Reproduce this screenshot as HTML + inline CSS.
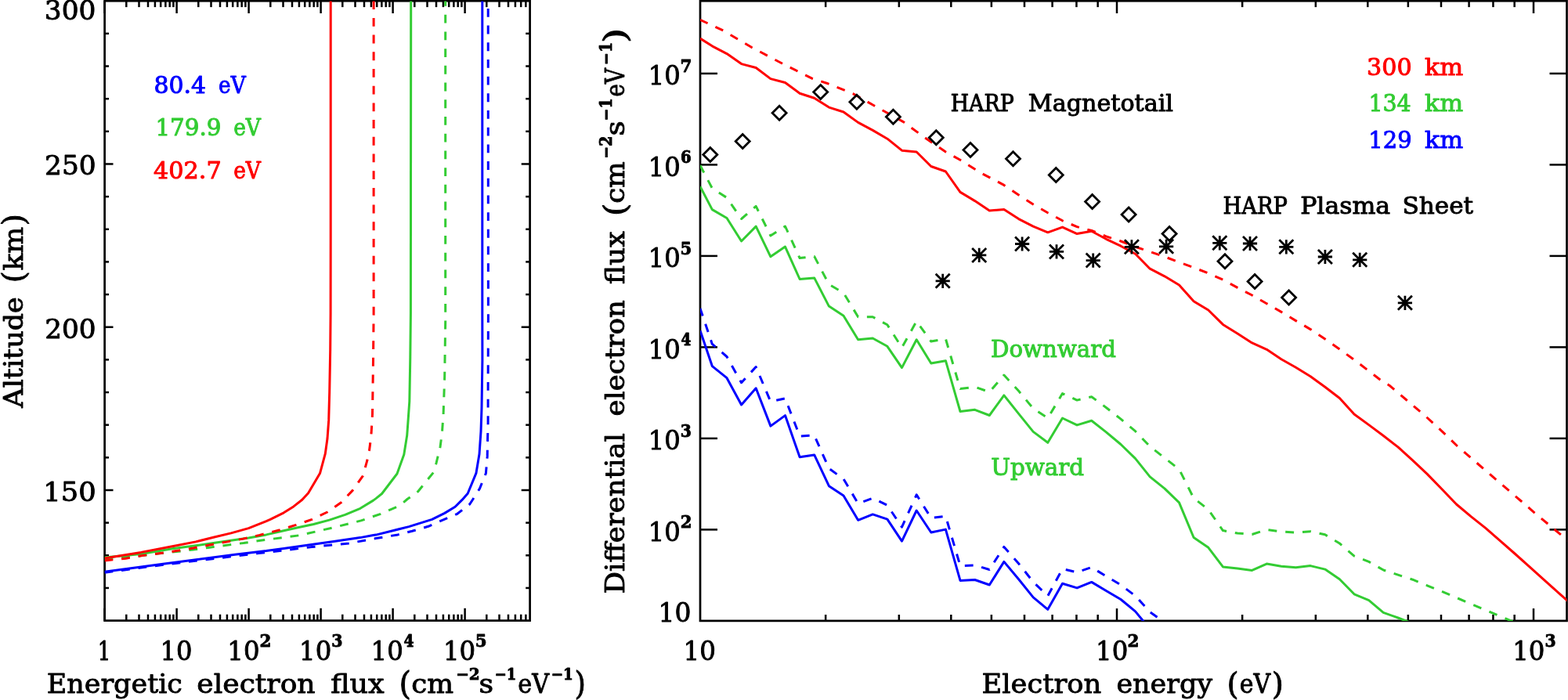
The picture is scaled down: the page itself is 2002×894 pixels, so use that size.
<!DOCTYPE html>
<html><head><meta charset="utf-8"><style>html,body{margin:0;padding:0;background:#fff;overflow:hidden}svg{display:block}</style></head>
<body>
<svg width="2002" height="894" viewBox="0 0 2002 894" font-family='"DejaVu Serif", "Liberation Serif", serif'>
<rect width="100%" height="100%" fill="#ffffff"/>
<defs><clipPath id="cl"><rect x="133.6" y="1.2" width="543.0" height="791.4"/></clipPath><clipPath id="cr"><rect x="894.0" y="1.2" width="1106.5" height="791.6999999999999"/></clipPath></defs>
<rect x="133.6" y="1.2" width="543.0" height="791.4" fill="none" stroke="#000" stroke-width="2.7"/>
<line x1="133.60" y1="792.60" x2="133.60" y2="776.80" stroke="#000000" stroke-width="2.5"/>
<line x1="133.60" y1="1.20" x2="133.60" y2="17.00" stroke="#000000" stroke-width="2.5"/>
<line x1="161.29" y1="792.60" x2="161.29" y2="784.70" stroke="#000000" stroke-width="2.5"/>
<line x1="161.29" y1="1.20" x2="161.29" y2="9.10" stroke="#000000" stroke-width="2.5"/>
<line x1="177.50" y1="792.60" x2="177.50" y2="784.70" stroke="#000000" stroke-width="2.5"/>
<line x1="177.50" y1="1.20" x2="177.50" y2="9.10" stroke="#000000" stroke-width="2.5"/>
<line x1="188.99" y1="792.60" x2="188.99" y2="784.70" stroke="#000000" stroke-width="2.5"/>
<line x1="188.99" y1="1.20" x2="188.99" y2="9.10" stroke="#000000" stroke-width="2.5"/>
<line x1="197.91" y1="792.60" x2="197.91" y2="784.70" stroke="#000000" stroke-width="2.5"/>
<line x1="197.91" y1="1.20" x2="197.91" y2="9.10" stroke="#000000" stroke-width="2.5"/>
<line x1="205.19" y1="792.60" x2="205.19" y2="784.70" stroke="#000000" stroke-width="2.5"/>
<line x1="205.19" y1="1.20" x2="205.19" y2="9.10" stroke="#000000" stroke-width="2.5"/>
<line x1="211.35" y1="792.60" x2="211.35" y2="784.70" stroke="#000000" stroke-width="2.5"/>
<line x1="211.35" y1="1.20" x2="211.35" y2="9.10" stroke="#000000" stroke-width="2.5"/>
<line x1="216.68" y1="792.60" x2="216.68" y2="784.70" stroke="#000000" stroke-width="2.5"/>
<line x1="216.68" y1="1.20" x2="216.68" y2="9.10" stroke="#000000" stroke-width="2.5"/>
<line x1="221.39" y1="792.60" x2="221.39" y2="784.70" stroke="#000000" stroke-width="2.5"/>
<line x1="221.39" y1="1.20" x2="221.39" y2="9.10" stroke="#000000" stroke-width="2.5"/>
<line x1="225.60" y1="792.60" x2="225.60" y2="776.80" stroke="#000000" stroke-width="2.5"/>
<line x1="225.60" y1="1.20" x2="225.60" y2="17.00" stroke="#000000" stroke-width="2.5"/>
<line x1="253.29" y1="792.60" x2="253.29" y2="784.70" stroke="#000000" stroke-width="2.5"/>
<line x1="253.29" y1="1.20" x2="253.29" y2="9.10" stroke="#000000" stroke-width="2.5"/>
<line x1="269.50" y1="792.60" x2="269.50" y2="784.70" stroke="#000000" stroke-width="2.5"/>
<line x1="269.50" y1="1.20" x2="269.50" y2="9.10" stroke="#000000" stroke-width="2.5"/>
<line x1="280.99" y1="792.60" x2="280.99" y2="784.70" stroke="#000000" stroke-width="2.5"/>
<line x1="280.99" y1="1.20" x2="280.99" y2="9.10" stroke="#000000" stroke-width="2.5"/>
<line x1="289.91" y1="792.60" x2="289.91" y2="784.70" stroke="#000000" stroke-width="2.5"/>
<line x1="289.91" y1="1.20" x2="289.91" y2="9.10" stroke="#000000" stroke-width="2.5"/>
<line x1="297.19" y1="792.60" x2="297.19" y2="784.70" stroke="#000000" stroke-width="2.5"/>
<line x1="297.19" y1="1.20" x2="297.19" y2="9.10" stroke="#000000" stroke-width="2.5"/>
<line x1="303.35" y1="792.60" x2="303.35" y2="784.70" stroke="#000000" stroke-width="2.5"/>
<line x1="303.35" y1="1.20" x2="303.35" y2="9.10" stroke="#000000" stroke-width="2.5"/>
<line x1="308.68" y1="792.60" x2="308.68" y2="784.70" stroke="#000000" stroke-width="2.5"/>
<line x1="308.68" y1="1.20" x2="308.68" y2="9.10" stroke="#000000" stroke-width="2.5"/>
<line x1="313.39" y1="792.60" x2="313.39" y2="784.70" stroke="#000000" stroke-width="2.5"/>
<line x1="313.39" y1="1.20" x2="313.39" y2="9.10" stroke="#000000" stroke-width="2.5"/>
<line x1="317.60" y1="792.60" x2="317.60" y2="776.80" stroke="#000000" stroke-width="2.5"/>
<line x1="317.60" y1="1.20" x2="317.60" y2="17.00" stroke="#000000" stroke-width="2.5"/>
<line x1="345.29" y1="792.60" x2="345.29" y2="784.70" stroke="#000000" stroke-width="2.5"/>
<line x1="345.29" y1="1.20" x2="345.29" y2="9.10" stroke="#000000" stroke-width="2.5"/>
<line x1="361.50" y1="792.60" x2="361.50" y2="784.70" stroke="#000000" stroke-width="2.5"/>
<line x1="361.50" y1="1.20" x2="361.50" y2="9.10" stroke="#000000" stroke-width="2.5"/>
<line x1="372.99" y1="792.60" x2="372.99" y2="784.70" stroke="#000000" stroke-width="2.5"/>
<line x1="372.99" y1="1.20" x2="372.99" y2="9.10" stroke="#000000" stroke-width="2.5"/>
<line x1="381.91" y1="792.60" x2="381.91" y2="784.70" stroke="#000000" stroke-width="2.5"/>
<line x1="381.91" y1="1.20" x2="381.91" y2="9.10" stroke="#000000" stroke-width="2.5"/>
<line x1="389.19" y1="792.60" x2="389.19" y2="784.70" stroke="#000000" stroke-width="2.5"/>
<line x1="389.19" y1="1.20" x2="389.19" y2="9.10" stroke="#000000" stroke-width="2.5"/>
<line x1="395.35" y1="792.60" x2="395.35" y2="784.70" stroke="#000000" stroke-width="2.5"/>
<line x1="395.35" y1="1.20" x2="395.35" y2="9.10" stroke="#000000" stroke-width="2.5"/>
<line x1="400.68" y1="792.60" x2="400.68" y2="784.70" stroke="#000000" stroke-width="2.5"/>
<line x1="400.68" y1="1.20" x2="400.68" y2="9.10" stroke="#000000" stroke-width="2.5"/>
<line x1="405.39" y1="792.60" x2="405.39" y2="784.70" stroke="#000000" stroke-width="2.5"/>
<line x1="405.39" y1="1.20" x2="405.39" y2="9.10" stroke="#000000" stroke-width="2.5"/>
<line x1="409.60" y1="792.60" x2="409.60" y2="776.80" stroke="#000000" stroke-width="2.5"/>
<line x1="409.60" y1="1.20" x2="409.60" y2="17.00" stroke="#000000" stroke-width="2.5"/>
<line x1="437.29" y1="792.60" x2="437.29" y2="784.70" stroke="#000000" stroke-width="2.5"/>
<line x1="437.29" y1="1.20" x2="437.29" y2="9.10" stroke="#000000" stroke-width="2.5"/>
<line x1="453.50" y1="792.60" x2="453.50" y2="784.70" stroke="#000000" stroke-width="2.5"/>
<line x1="453.50" y1="1.20" x2="453.50" y2="9.10" stroke="#000000" stroke-width="2.5"/>
<line x1="464.99" y1="792.60" x2="464.99" y2="784.70" stroke="#000000" stroke-width="2.5"/>
<line x1="464.99" y1="1.20" x2="464.99" y2="9.10" stroke="#000000" stroke-width="2.5"/>
<line x1="473.91" y1="792.60" x2="473.91" y2="784.70" stroke="#000000" stroke-width="2.5"/>
<line x1="473.91" y1="1.20" x2="473.91" y2="9.10" stroke="#000000" stroke-width="2.5"/>
<line x1="481.19" y1="792.60" x2="481.19" y2="784.70" stroke="#000000" stroke-width="2.5"/>
<line x1="481.19" y1="1.20" x2="481.19" y2="9.10" stroke="#000000" stroke-width="2.5"/>
<line x1="487.35" y1="792.60" x2="487.35" y2="784.70" stroke="#000000" stroke-width="2.5"/>
<line x1="487.35" y1="1.20" x2="487.35" y2="9.10" stroke="#000000" stroke-width="2.5"/>
<line x1="492.68" y1="792.60" x2="492.68" y2="784.70" stroke="#000000" stroke-width="2.5"/>
<line x1="492.68" y1="1.20" x2="492.68" y2="9.10" stroke="#000000" stroke-width="2.5"/>
<line x1="497.39" y1="792.60" x2="497.39" y2="784.70" stroke="#000000" stroke-width="2.5"/>
<line x1="497.39" y1="1.20" x2="497.39" y2="9.10" stroke="#000000" stroke-width="2.5"/>
<line x1="501.60" y1="792.60" x2="501.60" y2="776.80" stroke="#000000" stroke-width="2.5"/>
<line x1="501.60" y1="1.20" x2="501.60" y2="17.00" stroke="#000000" stroke-width="2.5"/>
<line x1="529.29" y1="792.60" x2="529.29" y2="784.70" stroke="#000000" stroke-width="2.5"/>
<line x1="529.29" y1="1.20" x2="529.29" y2="9.10" stroke="#000000" stroke-width="2.5"/>
<line x1="545.50" y1="792.60" x2="545.50" y2="784.70" stroke="#000000" stroke-width="2.5"/>
<line x1="545.50" y1="1.20" x2="545.50" y2="9.10" stroke="#000000" stroke-width="2.5"/>
<line x1="556.99" y1="792.60" x2="556.99" y2="784.70" stroke="#000000" stroke-width="2.5"/>
<line x1="556.99" y1="1.20" x2="556.99" y2="9.10" stroke="#000000" stroke-width="2.5"/>
<line x1="565.91" y1="792.60" x2="565.91" y2="784.70" stroke="#000000" stroke-width="2.5"/>
<line x1="565.91" y1="1.20" x2="565.91" y2="9.10" stroke="#000000" stroke-width="2.5"/>
<line x1="573.19" y1="792.60" x2="573.19" y2="784.70" stroke="#000000" stroke-width="2.5"/>
<line x1="573.19" y1="1.20" x2="573.19" y2="9.10" stroke="#000000" stroke-width="2.5"/>
<line x1="579.35" y1="792.60" x2="579.35" y2="784.70" stroke="#000000" stroke-width="2.5"/>
<line x1="579.35" y1="1.20" x2="579.35" y2="9.10" stroke="#000000" stroke-width="2.5"/>
<line x1="584.68" y1="792.60" x2="584.68" y2="784.70" stroke="#000000" stroke-width="2.5"/>
<line x1="584.68" y1="1.20" x2="584.68" y2="9.10" stroke="#000000" stroke-width="2.5"/>
<line x1="589.39" y1="792.60" x2="589.39" y2="784.70" stroke="#000000" stroke-width="2.5"/>
<line x1="589.39" y1="1.20" x2="589.39" y2="9.10" stroke="#000000" stroke-width="2.5"/>
<line x1="593.60" y1="792.60" x2="593.60" y2="776.80" stroke="#000000" stroke-width="2.5"/>
<line x1="593.60" y1="1.20" x2="593.60" y2="17.00" stroke="#000000" stroke-width="2.5"/>
<line x1="621.29" y1="792.60" x2="621.29" y2="784.70" stroke="#000000" stroke-width="2.5"/>
<line x1="621.29" y1="1.20" x2="621.29" y2="9.10" stroke="#000000" stroke-width="2.5"/>
<line x1="637.50" y1="792.60" x2="637.50" y2="784.70" stroke="#000000" stroke-width="2.5"/>
<line x1="637.50" y1="1.20" x2="637.50" y2="9.10" stroke="#000000" stroke-width="2.5"/>
<line x1="648.99" y1="792.60" x2="648.99" y2="784.70" stroke="#000000" stroke-width="2.5"/>
<line x1="648.99" y1="1.20" x2="648.99" y2="9.10" stroke="#000000" stroke-width="2.5"/>
<line x1="657.91" y1="792.60" x2="657.91" y2="784.70" stroke="#000000" stroke-width="2.5"/>
<line x1="657.91" y1="1.20" x2="657.91" y2="9.10" stroke="#000000" stroke-width="2.5"/>
<line x1="665.19" y1="792.60" x2="665.19" y2="784.70" stroke="#000000" stroke-width="2.5"/>
<line x1="665.19" y1="1.20" x2="665.19" y2="9.10" stroke="#000000" stroke-width="2.5"/>
<line x1="671.35" y1="792.60" x2="671.35" y2="784.70" stroke="#000000" stroke-width="2.5"/>
<line x1="671.35" y1="1.20" x2="671.35" y2="9.10" stroke="#000000" stroke-width="2.5"/>
<line x1="133.60" y1="750.95" x2="139.00" y2="750.95" stroke="#000000" stroke-width="2.5"/>
<line x1="676.60" y1="750.95" x2="671.20" y2="750.95" stroke="#000000" stroke-width="2.5"/>
<line x1="133.60" y1="709.29" x2="139.00" y2="709.29" stroke="#000000" stroke-width="2.5"/>
<line x1="676.60" y1="709.29" x2="671.20" y2="709.29" stroke="#000000" stroke-width="2.5"/>
<line x1="133.60" y1="667.64" x2="139.00" y2="667.64" stroke="#000000" stroke-width="2.5"/>
<line x1="676.60" y1="667.64" x2="671.20" y2="667.64" stroke="#000000" stroke-width="2.5"/>
<line x1="133.60" y1="625.99" x2="144.50" y2="625.99" stroke="#000000" stroke-width="2.5"/>
<line x1="676.60" y1="625.99" x2="665.70" y2="625.99" stroke="#000000" stroke-width="2.5"/>
<line x1="133.60" y1="584.34" x2="139.00" y2="584.34" stroke="#000000" stroke-width="2.5"/>
<line x1="676.60" y1="584.34" x2="671.20" y2="584.34" stroke="#000000" stroke-width="2.5"/>
<line x1="133.60" y1="542.68" x2="139.00" y2="542.68" stroke="#000000" stroke-width="2.5"/>
<line x1="676.60" y1="542.68" x2="671.20" y2="542.68" stroke="#000000" stroke-width="2.5"/>
<line x1="133.60" y1="501.03" x2="139.00" y2="501.03" stroke="#000000" stroke-width="2.5"/>
<line x1="676.60" y1="501.03" x2="671.20" y2="501.03" stroke="#000000" stroke-width="2.5"/>
<line x1="133.60" y1="459.38" x2="139.00" y2="459.38" stroke="#000000" stroke-width="2.5"/>
<line x1="676.60" y1="459.38" x2="671.20" y2="459.38" stroke="#000000" stroke-width="2.5"/>
<line x1="133.60" y1="417.73" x2="144.50" y2="417.73" stroke="#000000" stroke-width="2.5"/>
<line x1="676.60" y1="417.73" x2="665.70" y2="417.73" stroke="#000000" stroke-width="2.5"/>
<line x1="133.60" y1="376.07" x2="139.00" y2="376.07" stroke="#000000" stroke-width="2.5"/>
<line x1="676.60" y1="376.07" x2="671.20" y2="376.07" stroke="#000000" stroke-width="2.5"/>
<line x1="133.60" y1="334.42" x2="139.00" y2="334.42" stroke="#000000" stroke-width="2.5"/>
<line x1="676.60" y1="334.42" x2="671.20" y2="334.42" stroke="#000000" stroke-width="2.5"/>
<line x1="133.60" y1="292.77" x2="139.00" y2="292.77" stroke="#000000" stroke-width="2.5"/>
<line x1="676.60" y1="292.77" x2="671.20" y2="292.77" stroke="#000000" stroke-width="2.5"/>
<line x1="133.60" y1="251.12" x2="139.00" y2="251.12" stroke="#000000" stroke-width="2.5"/>
<line x1="676.60" y1="251.12" x2="671.20" y2="251.12" stroke="#000000" stroke-width="2.5"/>
<line x1="133.60" y1="209.46" x2="144.50" y2="209.46" stroke="#000000" stroke-width="2.5"/>
<line x1="676.60" y1="209.46" x2="665.70" y2="209.46" stroke="#000000" stroke-width="2.5"/>
<line x1="133.60" y1="167.81" x2="139.00" y2="167.81" stroke="#000000" stroke-width="2.5"/>
<line x1="676.60" y1="167.81" x2="671.20" y2="167.81" stroke="#000000" stroke-width="2.5"/>
<line x1="133.60" y1="126.16" x2="139.00" y2="126.16" stroke="#000000" stroke-width="2.5"/>
<line x1="676.60" y1="126.16" x2="671.20" y2="126.16" stroke="#000000" stroke-width="2.5"/>
<line x1="133.60" y1="84.51" x2="139.00" y2="84.51" stroke="#000000" stroke-width="2.5"/>
<line x1="676.60" y1="84.51" x2="671.20" y2="84.51" stroke="#000000" stroke-width="2.5"/>
<line x1="133.60" y1="42.85" x2="139.00" y2="42.85" stroke="#000000" stroke-width="2.5"/>
<line x1="676.60" y1="42.85" x2="671.20" y2="42.85" stroke="#000000" stroke-width="2.5"/>
<rect x="894.0" y="1.2" width="1106.5" height="791.6999999999999" fill="none" stroke="#000" stroke-width="2.7"/>
<line x1="1054.15" y1="792.90" x2="1054.15" y2="785.00" stroke="#000000" stroke-width="2.5"/>
<line x1="1054.15" y1="1.20" x2="1054.15" y2="9.10" stroke="#000000" stroke-width="2.5"/>
<line x1="1147.83" y1="792.90" x2="1147.83" y2="785.00" stroke="#000000" stroke-width="2.5"/>
<line x1="1147.83" y1="1.20" x2="1147.83" y2="9.10" stroke="#000000" stroke-width="2.5"/>
<line x1="1214.30" y1="792.90" x2="1214.30" y2="785.00" stroke="#000000" stroke-width="2.5"/>
<line x1="1214.30" y1="1.20" x2="1214.30" y2="9.10" stroke="#000000" stroke-width="2.5"/>
<line x1="1265.85" y1="792.90" x2="1265.85" y2="785.00" stroke="#000000" stroke-width="2.5"/>
<line x1="1265.85" y1="1.20" x2="1265.85" y2="9.10" stroke="#000000" stroke-width="2.5"/>
<line x1="1307.98" y1="792.90" x2="1307.98" y2="785.00" stroke="#000000" stroke-width="2.5"/>
<line x1="1307.98" y1="1.20" x2="1307.98" y2="9.10" stroke="#000000" stroke-width="2.5"/>
<line x1="1343.59" y1="792.90" x2="1343.59" y2="785.00" stroke="#000000" stroke-width="2.5"/>
<line x1="1343.59" y1="1.20" x2="1343.59" y2="9.10" stroke="#000000" stroke-width="2.5"/>
<line x1="1374.44" y1="792.90" x2="1374.44" y2="785.00" stroke="#000000" stroke-width="2.5"/>
<line x1="1374.44" y1="1.20" x2="1374.44" y2="9.10" stroke="#000000" stroke-width="2.5"/>
<line x1="1401.66" y1="792.90" x2="1401.66" y2="785.00" stroke="#000000" stroke-width="2.5"/>
<line x1="1401.66" y1="1.20" x2="1401.66" y2="9.10" stroke="#000000" stroke-width="2.5"/>
<line x1="1426.00" y1="792.90" x2="1426.00" y2="777.10" stroke="#000000" stroke-width="2.5"/>
<line x1="1426.00" y1="1.20" x2="1426.00" y2="17.00" stroke="#000000" stroke-width="2.5"/>
<line x1="1586.15" y1="792.90" x2="1586.15" y2="785.00" stroke="#000000" stroke-width="2.5"/>
<line x1="1586.15" y1="1.20" x2="1586.15" y2="9.10" stroke="#000000" stroke-width="2.5"/>
<line x1="1679.83" y1="792.90" x2="1679.83" y2="785.00" stroke="#000000" stroke-width="2.5"/>
<line x1="1679.83" y1="1.20" x2="1679.83" y2="9.10" stroke="#000000" stroke-width="2.5"/>
<line x1="1746.30" y1="792.90" x2="1746.30" y2="785.00" stroke="#000000" stroke-width="2.5"/>
<line x1="1746.30" y1="1.20" x2="1746.30" y2="9.10" stroke="#000000" stroke-width="2.5"/>
<line x1="1797.85" y1="792.90" x2="1797.85" y2="785.00" stroke="#000000" stroke-width="2.5"/>
<line x1="1797.85" y1="1.20" x2="1797.85" y2="9.10" stroke="#000000" stroke-width="2.5"/>
<line x1="1839.98" y1="792.90" x2="1839.98" y2="785.00" stroke="#000000" stroke-width="2.5"/>
<line x1="1839.98" y1="1.20" x2="1839.98" y2="9.10" stroke="#000000" stroke-width="2.5"/>
<line x1="1875.59" y1="792.90" x2="1875.59" y2="785.00" stroke="#000000" stroke-width="2.5"/>
<line x1="1875.59" y1="1.20" x2="1875.59" y2="9.10" stroke="#000000" stroke-width="2.5"/>
<line x1="1906.44" y1="792.90" x2="1906.44" y2="785.00" stroke="#000000" stroke-width="2.5"/>
<line x1="1906.44" y1="1.20" x2="1906.44" y2="9.10" stroke="#000000" stroke-width="2.5"/>
<line x1="1933.66" y1="792.90" x2="1933.66" y2="785.00" stroke="#000000" stroke-width="2.5"/>
<line x1="1933.66" y1="1.20" x2="1933.66" y2="9.10" stroke="#000000" stroke-width="2.5"/>
<line x1="1958.00" y1="792.90" x2="1958.00" y2="777.10" stroke="#000000" stroke-width="2.5"/>
<line x1="1958.00" y1="1.20" x2="1958.00" y2="17.00" stroke="#000000" stroke-width="2.5"/>
<line x1="894.00" y1="676.40" x2="916.00" y2="676.40" stroke="#000000" stroke-width="2.5"/>
<line x1="2000.50" y1="676.40" x2="1978.50" y2="676.40" stroke="#000000" stroke-width="2.5"/>
<line x1="894.00" y1="559.90" x2="916.00" y2="559.90" stroke="#000000" stroke-width="2.5"/>
<line x1="2000.50" y1="559.90" x2="1978.50" y2="559.90" stroke="#000000" stroke-width="2.5"/>
<line x1="894.00" y1="443.40" x2="916.00" y2="443.40" stroke="#000000" stroke-width="2.5"/>
<line x1="2000.50" y1="443.40" x2="1978.50" y2="443.40" stroke="#000000" stroke-width="2.5"/>
<line x1="894.00" y1="326.90" x2="916.00" y2="326.90" stroke="#000000" stroke-width="2.5"/>
<line x1="2000.50" y1="326.90" x2="1978.50" y2="326.90" stroke="#000000" stroke-width="2.5"/>
<line x1="894.00" y1="210.40" x2="916.00" y2="210.40" stroke="#000000" stroke-width="2.5"/>
<line x1="2000.50" y1="210.40" x2="1978.50" y2="210.40" stroke="#000000" stroke-width="2.5"/>
<line x1="894.00" y1="93.90" x2="916.00" y2="93.90" stroke="#000000" stroke-width="2.5"/>
<line x1="2000.50" y1="93.90" x2="1978.50" y2="93.90" stroke="#000000" stroke-width="2.5"/>
<polyline points="623.2,1.2 623.4,402.0 623.1,500.7 623.1,540.0 622.6,560.0 622.2,582.9 620.4,604.4 612.4,624.1 599.9,643.8 583.8,656.3 556.9,667.8 546.8,672.3 526.3,678.3 507.9,682.9 480.0,687.6 445.3,693.9 398.3,698.6 330.0,706.6 210.0,721.1 133.5,731.3" fill="none" stroke="#0000ff" stroke-width="3.0" stroke-linejoin="round" stroke-linecap="butt" stroke-dasharray="10.8427 10.8427" stroke-dashoffset="11.970" clip-path="url(#cl)"/>
<polyline points="615.8,1.2 615.8,400.0 615.9,460.0 615.0,520.8 614.0,551.0 612.0,580.0 607.9,604.4 597.2,630.3 590.0,638.4 581.1,647.3 567.7,655.4 551.6,663.4 522.0,672.6 480.0,683.1 476.6,683.5 460.0,686.6 429.6,691.0 362.3,700.5 340.0,703.6 300.0,708.2 210.0,720.1 133.5,730.3" fill="none" stroke="#0000ff" stroke-width="3.0" stroke-linejoin="round" stroke-linecap="butt" clip-path="url(#cl)"/>
<polyline points="568.7,1.2 568.7,410.0 567.7,480.5 566.1,528.8 564.4,553.0 562.0,571.0 556.9,591.9 553.3,603.5 533.7,627.7 520.0,637.5 515.8,641.1 507.9,646.9 496.1,651.8 486.0,656.3 461.0,664.9 429.6,672.8 382.6,683.7 332.6,690.3 311.0,693.5 289.5,696.2 267.5,699.2 246.6,702.0 225.0,704.6 203.4,706.8 183.6,709.2 160.5,711.8 133.5,714.8" fill="none" stroke="#33cc33" stroke-width="3.0" stroke-linejoin="round" stroke-linecap="butt" stroke-dasharray="10.8574 10.8574" stroke-dashoffset="4.191" clip-path="url(#cl)"/>
<polyline points="524.7,1.2 524.4,400.0 523.8,456.4 522.8,512.7 520.8,540.9 519.7,556.1 515.8,580.5 507.0,605.0 487.6,630.5 480.0,636.6 476.6,639.1 460.0,649.3 440.7,657.4 420.5,664.1 400.4,669.5 380.3,673.8 360.1,678.2 340.0,682.9 317.4,687.0 295.0,690.3 272.5,693.5 250.0,696.8 220.0,700.8 180.0,707.6 133.5,711.9" fill="none" stroke="#33cc33" stroke-width="3.0" stroke-linejoin="round" stroke-linecap="butt" clip-path="url(#cl)"/>
<polyline points="477.1,1.2 477.1,400.0 476.5,460.4 475.5,528.8 474.1,553.0 472.7,566.3 471.5,575.2 468.8,588.2 463.3,607.8 450.0,626.6 435.9,641.4 417.9,654.0 398.3,663.4 378.0,670.4 357.6,676.7 331.5,683.4 310.3,688.1 289.0,692.1 267.5,696.0 246.6,700.0 225.0,703.6 203.4,706.8 181.5,709.6 160.5,713.2 133.5,716.0" fill="none" stroke="#ff0000" stroke-width="3.0" stroke-linejoin="round" stroke-linecap="butt" stroke-dasharray="10.8491 10.8491" stroke-dashoffset="0.000" clip-path="url(#cl)"/>
<polyline points="422.2,1.2 422.2,300.0 422.1,400.0 421.7,446.3 420.7,500.7 419.7,536.9 418.0,560.0 415.3,579.4 408.5,604.6 393.6,629.7 385.8,638.3 374.8,646.9 362.3,654.8 345.1,663.4 340.0,665.6 317.4,674.6 295.0,680.9 272.5,686.3 250.0,691.9 220.0,697.7 180.0,705.4 133.5,712.9" fill="none" stroke="#ff0000" stroke-width="3.0" stroke-linejoin="round" stroke-linecap="butt" clip-path="url(#cl)"/>
<polyline points="894.0,394.1 909.3,439.4 928.0,455.5 946.6,488.8 965.2,468.6 983.9,512.9 1002.5,508.9 1021.1,557.0 1039.7,556.0 1058.4,598.3 1077.0,611.7 1095.6,643.0 1114.3,636.3 1132.9,645.3 1151.5,673.2 1170.2,631.9 1188.8,661.5 1207.4,659.3 1226.0,722.6 1244.7,721.9 1263.3,727.5 1281.9,698.4 1300.6,719.7 1319.2,743.2 1337.8,761.0 1356.5,726.5 1375.1,730.9 1393.7,724.5 1412.3,736.0 1431.0,747.0 1449.6,761.0 1468.2,781.5 1486.9,795.0" fill="none" stroke="#0000ff" stroke-width="3.0" stroke-linejoin="round" stroke-linecap="butt" stroke-dasharray="10.805 10.805" stroke-dashoffset="0.800" clip-path="url(#cr)"/>
<polyline points="894.0,422.3 909.3,467.6 928.0,482.7 946.6,517.0 965.2,495.8 983.9,544.1 1002.5,530.6 1021.1,583.8 1039.7,580.9 1058.4,620.7 1077.0,633.0 1095.6,664.3 1114.3,656.9 1132.9,663.2 1151.5,691.1 1170.2,652.0 1188.8,680.0 1207.4,676.1 1226.0,741.4 1244.7,740.5 1263.3,747.0 1281.9,717.4 1300.6,739.8 1319.2,762.9 1337.8,778.3 1356.5,745.3 1375.1,750.9 1393.7,743.4 1412.3,754.5 1431.0,765.5 1449.6,780.9 1468.2,803.5" fill="none" stroke="#0000ff" stroke-width="3.0" stroke-linejoin="round" stroke-linecap="butt" clip-path="url(#cr)"/>
<polyline points="894.0,211.3 909.3,240.5 928.0,252.5 946.6,279.5 965.2,263.4 983.9,301.0 1002.5,289.0 1021.1,329.6 1039.7,327.4 1058.4,363.2 1077.0,374.0 1095.6,404.7 1114.3,404.7 1132.9,414.8 1151.5,443.9 1170.2,410.3 1188.8,436.0 1207.4,432.7 1226.0,496.5 1244.7,494.2 1263.3,500.7 1281.9,479.1 1300.6,499.3 1319.2,521.7 1337.8,534.0 1356.5,502.6 1375.1,511.1 1393.7,506.7 1412.3,520.5 1431.0,535.1 1449.6,550.7 1468.2,570.2 1486.9,584.7 1505.5,599.3 1524.1,636.2 1542.8,650.7 1561.4,677.6 1580.0,681.0 1598.6,682.5 1617.3,676.5 1635.9,678.9 1654.5,680.1 1673.2,678.7 1691.8,682.8 1710.4,694.0 1729.0,710.1 1747.7,717.4 1766.3,728.0 1784.9,734.2 1803.6,740.2 1822.2,747.8 1840.8,755.4 1859.5,763.3 1878.1,771.2 1896.7,779.1 1915.3,787.0 1934.0,794.8" fill="none" stroke="#33cc33" stroke-width="3.0" stroke-linejoin="round" stroke-linecap="butt" stroke-dasharray="10.93 10.93" stroke-dashoffset="0.600" clip-path="url(#cr)"/>
<polyline points="894.0,238.3 909.3,267.6 928.0,278.5 946.6,308.0 965.2,289.1 983.9,327.8 1002.5,315.1 1021.1,356.5 1039.7,354.9 1058.4,391.1 1077.0,403.3 1095.6,433.8 1114.3,432.0 1132.9,442.3 1151.5,469.6 1170.2,433.8 1188.8,464.0 1207.4,460.7 1226.0,525.5 1244.7,523.3 1263.3,530.5 1281.9,504.9 1300.6,528.4 1319.2,551.4 1337.8,565.3 1356.5,534.0 1375.1,542.9 1393.7,537.3 1412.3,551.9 1431.0,567.5 1449.6,585.6 1468.2,608.9 1486.9,623.9 1505.5,641.8 1524.1,686.5 1542.8,699.3 1561.4,723.9 1580.0,726.1 1598.6,728.4 1617.3,720.1 1635.9,723.2 1654.5,724.8 1673.2,722.6 1691.8,727.1 1710.4,739.8 1729.0,758.8 1747.7,766.7 1766.3,782.3 1784.9,789.0 1803.6,796.3" fill="none" stroke="#33cc33" stroke-width="3.0" stroke-linejoin="round" stroke-linecap="butt" clip-path="url(#cr)"/>
<polyline points="894.0,25.3 923.6,39.1 959.4,60.3 999.6,81.6 1037.7,100.6 1055.5,106.2 1089.0,119.6 1115.8,134.7 1153.8,155.9 1181.0,176.0 1207.5,194.0 1226.0,204.3 1252.3,220.8 1273.4,231.9 1281.9,236.4 1300.6,248.9 1319.2,261.0 1337.8,271.7 1356.5,281.8 1375.1,289.6 1393.7,294.5 1412.3,301.9 1431.0,308.0 1449.6,315.3 1468.2,321.4 1486.9,327.8 1505.5,335.0 1524.1,341.7 1542.8,349.0 1561.4,357.3 1580.0,367.4 1598.6,377.0 1617.3,387.7 1635.9,398.4 1654.5,409.6 1673.2,420.6 1691.8,433.0 1710.4,446.0 1729.0,459.5 1761.9,484.7 1774.2,492.4 1795.4,510.5 1821.1,532.4 1844.6,554.1 1860.2,569.3 1909.4,611.8 1942.2,640.0 1958.6,654.3 1993.3,683.3 2010.0,697.5" fill="none" stroke="#ff0000" stroke-width="3.0" stroke-linejoin="round" stroke-linecap="butt" stroke-dasharray="10.855 10.855" stroke-dashoffset="0.300" clip-path="url(#cr)"/>
<polyline points="894.0,49.1 909.3,58.8 928.0,68.6 946.6,81.6 965.2,86.5 983.9,100.6 1002.5,105.5 1021.1,119.2 1039.7,125.2 1058.4,137.1 1077.0,143.0 1095.6,156.4 1114.3,166.4 1132.9,177.2 1151.5,192.2 1170.2,194.0 1188.8,212.5 1207.4,219.0 1226.0,245.4 1244.7,256.6 1263.3,269.0 1281.9,267.5 1300.6,279.6 1319.2,289.2 1337.8,296.8 1356.5,290.1 1375.1,298.6 1393.7,295.2 1412.3,305.3 1431.0,314.2 1449.6,324.3 1468.2,343.2 1486.9,352.8 1505.5,364.0 1524.1,384.8 1542.8,396.0 1561.4,414.4 1580.0,426.0 1598.6,437.9 1617.3,446.3 1635.9,458.7 1654.5,469.3 1673.2,480.8 1691.8,494.2 1710.4,508.5 1729.0,529.0 1747.7,542.6 1766.3,556.5 1784.9,570.9 1803.6,587.8 1822.2,605.4 1840.8,624.5 1859.5,644.0 1878.1,659.6 1896.7,674.4 1915.3,690.6 1934.0,707.0 1952.6,723.7 1971.2,740.4 1989.9,757.1 2008.5,773.7" fill="none" stroke="#ff0000" stroke-width="3.0" stroke-linejoin="round" stroke-linecap="butt" clip-path="url(#cr)"/>
<polygon points="897.8,197.5 906.8,188.5 915.8,197.5 906.8,206.5" fill="none" stroke="#000" stroke-width="2.8" stroke-linejoin="miter"/>
<polygon points="939.2,180.5 948.2,171.5 957.2,180.5 948.2,189.5" fill="none" stroke="#000" stroke-width="2.8" stroke-linejoin="miter"/>
<polygon points="986.1,144.2 995.1,135.2 1004.1,144.2 995.1,153.2" fill="none" stroke="#000" stroke-width="2.8" stroke-linejoin="miter"/>
<polygon points="1038.7,117.4 1047.7,108.4 1056.7,117.4 1047.7,126.4" fill="none" stroke="#000" stroke-width="2.8" stroke-linejoin="miter"/>
<polygon points="1084.9,130.2 1093.9,121.2 1102.9,130.2 1093.9,139.2" fill="none" stroke="#000" stroke-width="2.8" stroke-linejoin="miter"/>
<polygon points="1131.4,149.2 1140.4,140.2 1149.4,149.2 1140.4,158.2" fill="none" stroke="#000" stroke-width="2.8" stroke-linejoin="miter"/>
<polygon points="1186.3,175.8 1195.3,166.8 1204.3,175.8 1195.3,184.8" fill="none" stroke="#000" stroke-width="2.8" stroke-linejoin="miter"/>
<polygon points="1230.0,191.6 1239.0,182.6 1248.0,191.6 1239.0,200.6" fill="none" stroke="#000" stroke-width="2.8" stroke-linejoin="miter"/>
<polygon points="1284.5,202.8 1293.5,193.8 1302.5,202.8 1293.5,211.8" fill="none" stroke="#000" stroke-width="2.8" stroke-linejoin="miter"/>
<polygon points="1339.3,223.6 1348.3,214.6 1357.3,223.6 1348.3,232.6" fill="none" stroke="#000" stroke-width="2.8" stroke-linejoin="miter"/>
<polygon points="1385.6,257.6 1394.6,248.6 1403.6,257.6 1394.6,266.6" fill="none" stroke="#000" stroke-width="2.8" stroke-linejoin="miter"/>
<polygon points="1432.1,274.0 1441.1,265.0 1450.1,274.0 1441.1,283.0" fill="none" stroke="#000" stroke-width="2.8" stroke-linejoin="miter"/>
<polygon points="1484.1,298.5 1493.1,289.5 1502.1,298.5 1493.1,307.5" fill="none" stroke="#000" stroke-width="2.8" stroke-linejoin="miter"/>
<polygon points="1555.0,333.8 1564.0,324.8 1573.0,333.8 1564.0,342.8" fill="none" stroke="#000" stroke-width="2.8" stroke-linejoin="miter"/>
<polygon points="1593.1,359.6 1602.1,350.6 1611.1,359.6 1602.1,368.6" fill="none" stroke="#000" stroke-width="2.8" stroke-linejoin="miter"/>
<polygon points="1636.6,380.0 1645.6,371.0 1654.6,380.0 1645.6,389.0" fill="none" stroke="#000" stroke-width="2.8" stroke-linejoin="miter"/>
<path d="M1194.6 358.8H1212.8M1203.7 349.7V367.9M1194.7 349.8L1212.7 367.8M1194.7 367.8L1212.7 349.8" stroke="#000" stroke-width="2.8" fill="none"/>
<path d="M1241.1 325.9H1259.3M1250.2 316.8V335.0M1241.2 316.9L1259.2 334.9M1241.2 334.9L1259.2 316.9" stroke="#000" stroke-width="2.8" fill="none"/>
<path d="M1296.0 311.5H1314.2M1305.1 302.4V320.6M1296.1 302.5L1314.1 320.5M1296.1 320.5L1314.1 302.5" stroke="#000" stroke-width="2.8" fill="none"/>
<path d="M1339.9 321.4H1358.1M1349.0 312.3V330.5M1340.0 312.4L1358.0 330.4M1340.0 330.4L1358.0 312.4" stroke="#000" stroke-width="2.8" fill="none"/>
<path d="M1386.6 332.6H1404.8M1395.7 323.5V341.7M1386.7 323.6L1404.7 341.6M1386.7 341.6L1404.7 323.6" stroke="#000" stroke-width="2.8" fill="none"/>
<path d="M1435.8 315.3H1454.0M1444.9 306.2V324.4M1435.9 306.3L1453.9 324.3M1435.9 324.3L1453.9 306.3" stroke="#000" stroke-width="2.8" fill="none"/>
<path d="M1480.0 314.8H1498.2M1489.1 305.7V323.9M1480.1 305.8L1498.1 323.8M1480.1 323.8L1498.1 305.8" stroke="#000" stroke-width="2.8" fill="none"/>
<path d="M1548.2 310.3H1566.4M1557.3 301.2V319.4M1548.3 301.3L1566.3 319.3M1548.3 319.3L1566.3 301.3" stroke="#000" stroke-width="2.8" fill="none"/>
<path d="M1586.9 311.0H1605.1M1596.0 301.9V320.1M1587.0 302.0L1605.0 320.0M1587.0 320.0L1605.0 302.0" stroke="#000" stroke-width="2.8" fill="none"/>
<path d="M1633.2 315.3H1651.4M1642.3 306.2V324.4M1633.3 306.3L1651.3 324.3M1633.3 324.3L1651.3 306.3" stroke="#000" stroke-width="2.8" fill="none"/>
<path d="M1682.8 328.0H1701.0M1691.9 318.9V337.1M1682.9 319.0L1700.9 337.0M1682.9 337.0L1700.9 319.0" stroke="#000" stroke-width="2.8" fill="none"/>
<path d="M1727.1 331.8H1745.3M1736.2 322.7V340.9M1727.2 322.8L1745.2 340.8M1727.2 340.8L1745.2 322.8" stroke="#000" stroke-width="2.8" fill="none"/>
<path d="M1784.8 386.8H1803.0M1793.9 377.7V395.9M1784.9 377.8L1802.9 395.8M1784.9 395.8L1802.9 377.8" stroke="#000" stroke-width="2.8" fill="none"/>
<text x="56.84" y="24.90" font-size="33.50" fill="#000000" textLength="65.49" lengthAdjust="spacingAndGlyphs" stroke="#000000" stroke-width="0.9" stroke-linejoin="round">300</text>
<text x="57.12" y="223.30" font-size="33.50" fill="#000000" textLength="65.51" lengthAdjust="spacingAndGlyphs" stroke="#000000" stroke-width="0.9" stroke-linejoin="round">250</text>
<text x="57.33" y="432.00" font-size="33.50" fill="#000000" textLength="65.29" lengthAdjust="spacingAndGlyphs" stroke="#000000" stroke-width="0.9" stroke-linejoin="round">200</text>
<text x="55.34" y="640.40" font-size="33.50" fill="#000000" textLength="67.35" lengthAdjust="spacingAndGlyphs" stroke="#000000" stroke-width="0.9" stroke-linejoin="round">150</text>
<text x="124.87" y="842.80" font-size="33.50" fill="#000000" textLength="16.59" lengthAdjust="spacingAndGlyphs" stroke="#000000" stroke-width="0.9" stroke-linejoin="round">1</text>
<text x="204.52" y="842.80" font-size="33.50" fill="#000000" textLength="40.97" lengthAdjust="spacingAndGlyphs" stroke="#000000" stroke-width="0.9" stroke-linejoin="round">10</text>
<text x="290.30" y="842.80" font-size="33.50" fill="#000000" textLength="41.20" lengthAdjust="spacingAndGlyphs" stroke="#000000" stroke-width="0.9" stroke-linejoin="round">10</text>
<text x="331.42" y="826.10" font-size="21.60" fill="#000000" textLength="14.84" lengthAdjust="spacingAndGlyphs" font-weight="bold" stroke="#000000" stroke-width="0.9" stroke-linejoin="round">2</text>
<text x="382.10" y="842.80" font-size="33.50" fill="#000000" textLength="41.20" lengthAdjust="spacingAndGlyphs" stroke="#000000" stroke-width="0.9" stroke-linejoin="round">10</text>
<text x="423.22" y="826.10" font-size="21.60" fill="#000000" textLength="14.24" lengthAdjust="spacingAndGlyphs" font-weight="bold" stroke="#000000" stroke-width="0.9" stroke-linejoin="round">3</text>
<text x="473.60" y="842.80" font-size="33.50" fill="#000000" textLength="41.20" lengthAdjust="spacingAndGlyphs" stroke="#000000" stroke-width="0.9" stroke-linejoin="round">10</text>
<text x="515.38" y="826.10" font-size="21.60" fill="#000000" textLength="13.04" lengthAdjust="spacingAndGlyphs" font-weight="bold" stroke="#000000" stroke-width="0.9" stroke-linejoin="round">4</text>
<text x="565.90" y="842.80" font-size="33.50" fill="#000000" textLength="41.20" lengthAdjust="spacingAndGlyphs" stroke="#000000" stroke-width="0.9" stroke-linejoin="round">10</text>
<text x="606.70" y="826.10" font-size="21.60" fill="#000000" textLength="14.87" lengthAdjust="spacingAndGlyphs" font-weight="bold" stroke="#000000" stroke-width="0.9" stroke-linejoin="round">5</text>
<text x="59.72" y="885.30" font-size="34.00" fill="#000000" textLength="173.23" lengthAdjust="spacingAndGlyphs" stroke="#000000" stroke-width="0.9" stroke-linejoin="round">Energetic</text>
<text x="251.35" y="885.30" font-size="34.00" fill="#000000" textLength="151.30" lengthAdjust="spacingAndGlyphs" stroke="#000000" stroke-width="0.9" stroke-linejoin="round">electron</text>
<text x="422.25" y="885.30" font-size="34.00" fill="#000000" textLength="68.34" lengthAdjust="spacingAndGlyphs" stroke="#000000" stroke-width="0.9" stroke-linejoin="round">flux</text>
<text x="509.62" y="886.79" font-size="40.20" fill="#000000" textLength="15.46" lengthAdjust="spacingAndGlyphs" stroke="#000000" stroke-width="0.9" stroke-linejoin="round">(</text>
<text x="525.27" y="885.30" font-size="34.00" fill="#000000" textLength="53.85" lengthAdjust="spacingAndGlyphs" stroke="#000000" stroke-width="0.9" stroke-linejoin="round">cm</text>
<text x="582.14" y="868.20" font-size="20.60" fill="#000000" textLength="30.61" lengthAdjust="spacingAndGlyphs" font-weight="bold" stroke="#000000" stroke-width="0.9" stroke-linejoin="round">&#8722;2</text>
<text x="611.42" y="885.30" font-size="34.00" fill="#000000" textLength="18.59" lengthAdjust="spacingAndGlyphs" stroke="#000000" stroke-width="0.9" stroke-linejoin="round">s</text>
<text x="631.65" y="868.20" font-size="20.60" fill="#000000" textLength="27.48" lengthAdjust="spacingAndGlyphs" font-weight="bold" stroke="#000000" stroke-width="0.9" stroke-linejoin="round">&#8722;1</text>
<text x="661.24" y="885.30" font-size="34.00" fill="#000000" textLength="39.87" lengthAdjust="spacingAndGlyphs" stroke="#000000" stroke-width="0.9" stroke-linejoin="round">eV</text>
<text x="703.70" y="868.20" font-size="20.60" fill="#000000" textLength="28.18" lengthAdjust="spacingAndGlyphs" font-weight="bold" stroke="#000000" stroke-width="0.9" stroke-linejoin="round">&#8722;1</text>
<text x="733.53" y="886.79" font-size="40.20" fill="#000000" textLength="14.45" lengthAdjust="spacingAndGlyphs" stroke="#000000" stroke-width="0.9" stroke-linejoin="round">)</text>
<text x="29.10" y="520.64" font-size="34.00" fill="#000000" textLength="141.44" lengthAdjust="spacingAndGlyphs" stroke="#000000" stroke-width="0.9" stroke-linejoin="round" transform="rotate(-90 29.10 520.64)">Altitude</text>
<text x="30.61" y="361.32" font-size="38.78" fill="#000000" textLength="15.13" lengthAdjust="spacingAndGlyphs" stroke="#000000" stroke-width="0.9" stroke-linejoin="round" transform="rotate(-90 30.61 361.32)">(</text>
<text x="29.10" y="345.48" font-size="34.00" fill="#000000" textLength="55.71" lengthAdjust="spacingAndGlyphs" stroke="#000000" stroke-width="0.9" stroke-linejoin="round" transform="rotate(-90 29.10 345.48)">km</text>
<text x="30.61" y="288.29" font-size="38.78" fill="#000000" textLength="15.10" lengthAdjust="spacingAndGlyphs" stroke="#000000" stroke-width="0.9" stroke-linejoin="round" transform="rotate(-90 30.61 288.29)">)</text>
<text x="196.40" y="119.00" font-size="30.60" fill="#0000ff" textLength="66.61" lengthAdjust="spacingAndGlyphs" stroke="#0000ff" stroke-width="1.0" stroke-linejoin="round">80.4</text>
<text x="279.09" y="119.00" font-size="30.60" fill="#0000ff" textLength="34.63" lengthAdjust="spacingAndGlyphs" stroke="#0000ff" stroke-width="1.0" stroke-linejoin="round">eV</text>
<text x="198.41" y="173.40" font-size="30.60" fill="#33cc33" textLength="84.17" lengthAdjust="spacingAndGlyphs" stroke="#33cc33" stroke-width="1.0" stroke-linejoin="round">179.9</text>
<text x="298.18" y="173.40" font-size="30.60" fill="#33cc33" textLength="34.83" lengthAdjust="spacingAndGlyphs" stroke="#33cc33" stroke-width="1.0" stroke-linejoin="round">eV</text>
<text x="196.07" y="227.60" font-size="30.60" fill="#ff0000" textLength="86.72" lengthAdjust="spacingAndGlyphs" stroke="#ff0000" stroke-width="1.0" stroke-linejoin="round">402.7</text>
<text x="298.18" y="227.60" font-size="30.60" fill="#ff0000" textLength="34.83" lengthAdjust="spacingAndGlyphs" stroke="#ff0000" stroke-width="1.0" stroke-linejoin="round">eV</text>
<text x="827.72" y="690.60" font-size="33.50" fill="#000000" textLength="40.97" lengthAdjust="spacingAndGlyphs" stroke="#000000" stroke-width="0.9" stroke-linejoin="round">10</text>
<text x="868.74" y="674.40" font-size="21.60" fill="#000000" textLength="14.71" lengthAdjust="spacingAndGlyphs" font-weight="bold" stroke="#000000" stroke-width="0.9" stroke-linejoin="round">2</text>
<text x="827.72" y="574.10" font-size="33.50" fill="#000000" textLength="40.97" lengthAdjust="spacingAndGlyphs" stroke="#000000" stroke-width="0.9" stroke-linejoin="round">10</text>
<text x="868.73" y="557.90" font-size="21.60" fill="#000000" textLength="14.11" lengthAdjust="spacingAndGlyphs" font-weight="bold" stroke="#000000" stroke-width="0.9" stroke-linejoin="round">3</text>
<text x="827.72" y="457.60" font-size="33.50" fill="#000000" textLength="40.97" lengthAdjust="spacingAndGlyphs" stroke="#000000" stroke-width="0.9" stroke-linejoin="round">10</text>
<text x="869.39" y="441.40" font-size="21.60" fill="#000000" textLength="12.92" lengthAdjust="spacingAndGlyphs" font-weight="bold" stroke="#000000" stroke-width="0.9" stroke-linejoin="round">4</text>
<text x="827.72" y="341.10" font-size="33.50" fill="#000000" textLength="40.97" lengthAdjust="spacingAndGlyphs" stroke="#000000" stroke-width="0.9" stroke-linejoin="round">10</text>
<text x="868.41" y="324.90" font-size="21.60" fill="#000000" textLength="14.74" lengthAdjust="spacingAndGlyphs" font-weight="bold" stroke="#000000" stroke-width="0.9" stroke-linejoin="round">5</text>
<text x="827.72" y="224.60" font-size="33.50" fill="#000000" textLength="40.97" lengthAdjust="spacingAndGlyphs" stroke="#000000" stroke-width="0.9" stroke-linejoin="round">10</text>
<text x="868.91" y="208.40" font-size="21.60" fill="#000000" textLength="13.70" lengthAdjust="spacingAndGlyphs" font-weight="bold" stroke="#000000" stroke-width="0.9" stroke-linejoin="round">6</text>
<text x="827.72" y="108.10" font-size="33.50" fill="#000000" textLength="40.97" lengthAdjust="spacingAndGlyphs" stroke="#000000" stroke-width="0.9" stroke-linejoin="round">10</text>
<text x="868.46" y="91.90" font-size="21.60" fill="#000000" textLength="14.86" lengthAdjust="spacingAndGlyphs" font-weight="bold" stroke="#000000" stroke-width="0.9" stroke-linejoin="round">7</text>
<text x="840.54" y="794.40" font-size="33.50" fill="#000000" textLength="41.79" lengthAdjust="spacingAndGlyphs" stroke="#000000" stroke-width="0.9" stroke-linejoin="round">10</text>
<text x="872.49" y="842.80" font-size="33.50" fill="#000000" textLength="41.32" lengthAdjust="spacingAndGlyphs" stroke="#000000" stroke-width="0.9" stroke-linejoin="round">10</text>
<text x="1399.10" y="842.80" font-size="33.50" fill="#000000" textLength="41.20" lengthAdjust="spacingAndGlyphs" stroke="#000000" stroke-width="0.9" stroke-linejoin="round">10</text>
<text x="1439.52" y="826.10" font-size="21.60" fill="#000000" textLength="14.84" lengthAdjust="spacingAndGlyphs" font-weight="bold" stroke="#000000" stroke-width="0.9" stroke-linejoin="round">2</text>
<text x="1931.20" y="842.80" font-size="33.50" fill="#000000" textLength="41.20" lengthAdjust="spacingAndGlyphs" stroke="#000000" stroke-width="0.9" stroke-linejoin="round">10</text>
<text x="1972.43" y="826.10" font-size="21.60" fill="#000000" textLength="14.11" lengthAdjust="spacingAndGlyphs" font-weight="bold" stroke="#000000" stroke-width="0.9" stroke-linejoin="round">3</text>
<text x="1253.60" y="885.00" font-size="34.00" fill="#000000" textLength="152.63" lengthAdjust="spacingAndGlyphs" stroke="#000000" stroke-width="0.9" stroke-linejoin="round">Electron</text>
<text x="1425.41" y="885.00" font-size="34.00" fill="#000000" textLength="122.64" lengthAdjust="spacingAndGlyphs" stroke="#000000" stroke-width="0.9" stroke-linejoin="round">energy</text>
<text x="1566.48" y="886.74" font-size="39.87" fill="#000000" textLength="15.13" lengthAdjust="spacingAndGlyphs" stroke="#000000" stroke-width="0.9" stroke-linejoin="round">(</text>
<text x="1582.65" y="884.50" font-size="34.00" fill="#000000" textLength="39.46" lengthAdjust="spacingAndGlyphs" stroke="#000000" stroke-width="0.9" stroke-linejoin="round">eV</text>
<text x="1623.71" y="886.74" font-size="39.87" fill="#000000" textLength="15.10" lengthAdjust="spacingAndGlyphs" stroke="#000000" stroke-width="0.9" stroke-linejoin="round">)</text>
<text x="797.00" y="758.40" font-size="34.00" fill="#000000" textLength="205.30" lengthAdjust="spacingAndGlyphs" stroke="#000000" stroke-width="0.9" stroke-linejoin="round" transform="rotate(-90 797.00 758.40)">Differential</text>
<text x="797.00" y="531.61" font-size="34.00" fill="#000000" textLength="148.45" lengthAdjust="spacingAndGlyphs" stroke="#000000" stroke-width="0.9" stroke-linejoin="round" transform="rotate(-90 797.00 531.61)">electron</text>
<text x="797.00" y="363.04" font-size="34.00" fill="#000000" textLength="67.62" lengthAdjust="spacingAndGlyphs" stroke="#000000" stroke-width="0.9" stroke-linejoin="round" transform="rotate(-90 797.00 363.04)">flux</text>
<text x="798.93" y="276.08" font-size="39.32" fill="#000000" textLength="16.44" lengthAdjust="spacingAndGlyphs" stroke="#000000" stroke-width="0.9" stroke-linejoin="round" transform="rotate(-90 798.93 276.08)">(</text>
<text x="797.00" y="259.82" font-size="34.00" fill="#000000" textLength="53.64" lengthAdjust="spacingAndGlyphs" stroke="#000000" stroke-width="0.9" stroke-linejoin="round" transform="rotate(-90 797.00 259.82)">cm</text>
<text x="781.20" y="202.55" font-size="21.40" fill="#000000" textLength="29.00" lengthAdjust="spacingAndGlyphs" font-weight="bold" stroke="#000000" stroke-width="0.9" stroke-linejoin="round" transform="rotate(-90 781.20 202.55)">&#8722;2</text>
<text x="797.00" y="173.45" font-size="34.00" fill="#000000" textLength="19.22" lengthAdjust="spacingAndGlyphs" stroke="#000000" stroke-width="0.9" stroke-linejoin="round" transform="rotate(-90 797.00 173.45)">s</text>
<text x="781.20" y="154.26" font-size="21.40" fill="#000000" textLength="29.10" lengthAdjust="spacingAndGlyphs" font-weight="bold" stroke="#000000" stroke-width="0.9" stroke-linejoin="round" transform="rotate(-90 781.20 154.26)">&#8722;1</text>
<text x="797.00" y="123.42" font-size="34.00" fill="#000000" textLength="36.27" lengthAdjust="spacingAndGlyphs" stroke="#000000" stroke-width="0.9" stroke-linejoin="round" transform="rotate(-90 797.00 123.42)">eV</text>
<text x="781.20" y="82.87" font-size="21.40" fill="#000000" textLength="29.22" lengthAdjust="spacingAndGlyphs" font-weight="bold" stroke="#000000" stroke-width="0.9" stroke-linejoin="round" transform="rotate(-90 781.20 82.87)">&#8722;1</text>
<text x="798.84" y="55.22" font-size="39.21" fill="#000000" textLength="19.65" lengthAdjust="spacingAndGlyphs" stroke="#000000" stroke-width="0.9" stroke-linejoin="round" transform="rotate(-90 798.84 55.22)">)</text>
<text x="1213.72" y="142.40" font-size="30.60" fill="#000000" textLength="81.04" lengthAdjust="spacingAndGlyphs" stroke="#000000" stroke-width="1.0" stroke-linejoin="round">HARP</text>
<text x="1312.80" y="142.40" font-size="30.60" fill="#000000" textLength="185.20" lengthAdjust="spacingAndGlyphs" stroke="#000000" stroke-width="1.0" stroke-linejoin="round">Magnetotail</text>
<text x="1561.49" y="273.20" font-size="30.60" fill="#000000" textLength="82.38" lengthAdjust="spacingAndGlyphs" stroke="#000000" stroke-width="1.0" stroke-linejoin="round">HARP</text>
<text x="1660.16" y="273.20" font-size="30.60" fill="#000000" textLength="114.93" lengthAdjust="spacingAndGlyphs" stroke="#000000" stroke-width="1.0" stroke-linejoin="round">Plasma</text>
<text x="1790.49" y="273.20" font-size="30.60" fill="#000000" textLength="90.55" lengthAdjust="spacingAndGlyphs" stroke="#000000" stroke-width="1.0" stroke-linejoin="round">Sheet</text>
<text x="1745.10" y="95.70" font-size="30.60" fill="#ff0000" textLength="57.60" lengthAdjust="spacingAndGlyphs" stroke="#ff0000" stroke-width="1.0" stroke-linejoin="round">300</text>
<text x="1819.09" y="95.70" font-size="30.60" fill="#ff0000" textLength="49.07" lengthAdjust="spacingAndGlyphs" stroke="#ff0000" stroke-width="1.0" stroke-linejoin="round">km</text>
<text x="1747.43" y="142.20" font-size="30.60" fill="#33cc33" textLength="54.30" lengthAdjust="spacingAndGlyphs" stroke="#33cc33" stroke-width="1.0" stroke-linejoin="round">134</text>
<text x="1819.09" y="142.20" font-size="30.60" fill="#33cc33" textLength="49.07" lengthAdjust="spacingAndGlyphs" stroke="#33cc33" stroke-width="1.0" stroke-linejoin="round">km</text>
<text x="1747.36" y="188.70" font-size="30.60" fill="#0000ff" textLength="55.29" lengthAdjust="spacingAndGlyphs" stroke="#0000ff" stroke-width="1.0" stroke-linejoin="round">129</text>
<text x="1819.09" y="188.70" font-size="30.60" fill="#0000ff" textLength="49.07" lengthAdjust="spacingAndGlyphs" stroke="#0000ff" stroke-width="1.0" stroke-linejoin="round">km</text>
<text x="1264.99" y="455.80" font-size="29.50" fill="#33cc33" textLength="159.97" lengthAdjust="spacingAndGlyphs" stroke="#33cc33" stroke-width="1.0" stroke-linejoin="round">Downward</text>
<text x="1265.22" y="606.90" font-size="29.50" fill="#33cc33" textLength="118.94" lengthAdjust="spacingAndGlyphs" stroke="#33cc33" stroke-width="1.0" stroke-linejoin="round">Upward</text>
</svg>
</body></html>
